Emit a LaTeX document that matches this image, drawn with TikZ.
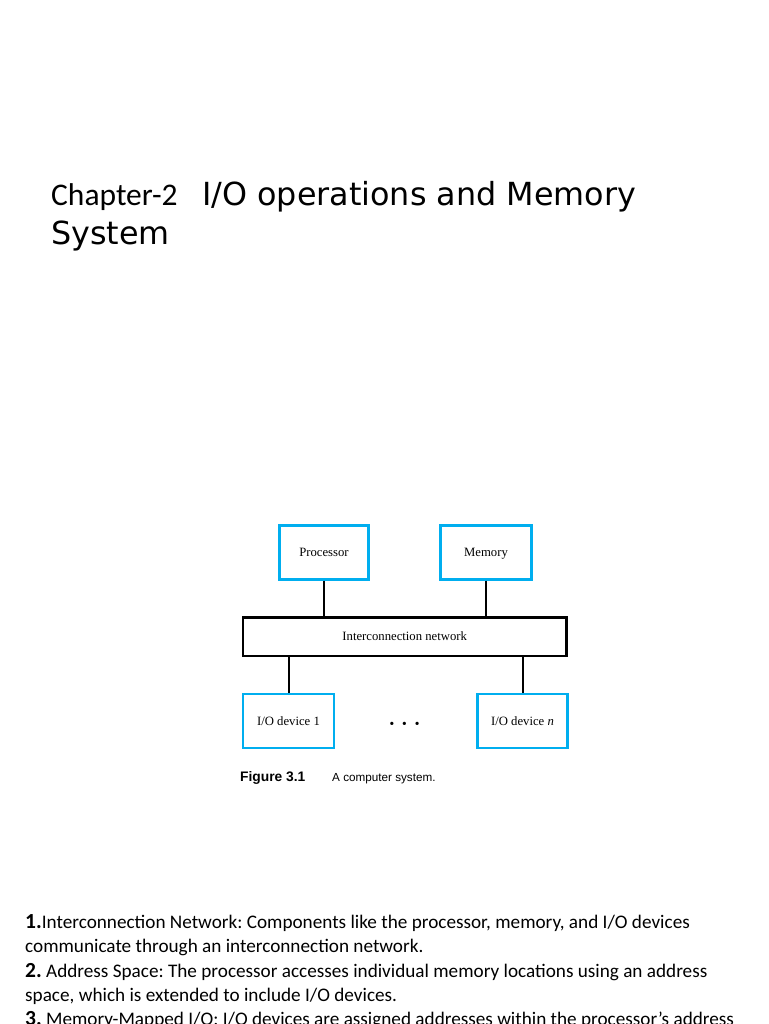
\documentclass[tikz,border=0pt]{standalone}
\usepackage{fontspec}
\setmainfont{Carlito}
\newfontfamily\titlefont{DejaVu Sans}
\newfontfamily\boxfont{Liberation Serif}
\newfontfamily\capfont{Liberation Sans}
\definecolor{boxblue}{RGB}{0,174,239}
\frenchspacing

\begin{document}
\begin{tikzpicture}[x=1pt, y=-1pt,
	blockbox/.style={draw=boxblue, line width=2.6pt, minimum height=54pt, inner sep=0pt, text height=10pt, text depth=2pt, font=\boxfont\fontsize{12.7}{14}\selectfont},
	netbox/.style={draw=black, line width=2.5pt, minimum width=323.5pt, minimum height=38.5pt, inner sep=0pt, text height=10pt, text depth=2pt, font=\boxfont\fontsize{12.7}{14}\selectfont},
	link/.style={draw=black, line width=2pt},
	bodyline/.style={anchor=base west, inner sep=0pt, font=\fontsize{19.2}{24}\selectfont}]
	\clip (0,0) rectangle (768,1024);
	\fill[white] (0,0) rectangle (768,1024);
	\node[anchor=base west, inner sep=0pt, font=\fontsize{31.5}{31.5}\selectfont] (chap) at (51,206) {Chapter-2};
	\node[anchor=base west, inner sep=0pt, font=\titlefont\fontsize{31.8}{31.8}\selectfont] (title) at (202,206) {I/O operations and Memory};
	\node[anchor=base west, inner sep=0pt, font=\titlefont\fontsize{31.8}{31.8}\selectfont] (title2) at (51,244) {System};
	\node[blockbox, minimum width=89.5pt] (proc) at (324,552.3) {Processor};
	\node[blockbox, minimum width=90.5pt] (mem) at (486,552.3) {Memory};
	\node[netbox] (net) at (404.7,636.5) {Interconnection network};
	\node[blockbox, minimum width=91pt] (io1) at (288.5,721) {I/O device 1};
	\node[blockbox, minimum width=90.5pt] (ion) at (522.5,721) {I/O device \textit{n}};
	\node[inner sep=0pt, font=\boxfont\bfseries\fontsize{20}{20}\selectfont] (dots) at (404.5,726) {·\hspace{6pt}·\hspace{6pt}·};
	\draw[link] (proc.south) -- (proc.south |- net.north);
	\draw[link] (mem.south) -- (mem.south |- net.north);
	\draw[link] (io1.north) -- (io1.north |- net.south);
	\draw[link] (ion.north) -- (ion.north |- net.south);
	\node[anchor=base west, inner sep=0pt, font=\capfont\bfseries\fontsize{13.8}{13.8}\selectfont] (figno) at (240,781) {Figure 3.1};
	\node[anchor=base west, inner sep=0pt, font=\capfont\fontsize{11.7}{11.7}\selectfont] (figcap) at (332,781) {A computer system.};
	\node[bodyline] (line1) at (25,928.3) {{\bfseries\fontsize{21.5}{21.5}\selectfont 1.}Interconnection Network: Components like the processor, memory, and I/O devices};
	\node[bodyline] (line2) at (25,952.7) {communicate through an interconnection network.};
	\node[bodyline] (line3) at (25,977.3) {{\bfseries\fontsize{21.5}{21.5}\selectfont 2.} Address Space: The processor accesses individual memory locations using an address};
	\node[bodyline] (line4) at (25,1001) {space, which is extended to include I/O devices.};
	\node[bodyline] (line5) at (25,1025.5) {{\bfseries\fontsize{21.5}{21.5}\selectfont 3.} Memory-Mapped I/O: I/O devices are assigned addresses within the processor’s address};
\end{tikzpicture}
\end{document}
